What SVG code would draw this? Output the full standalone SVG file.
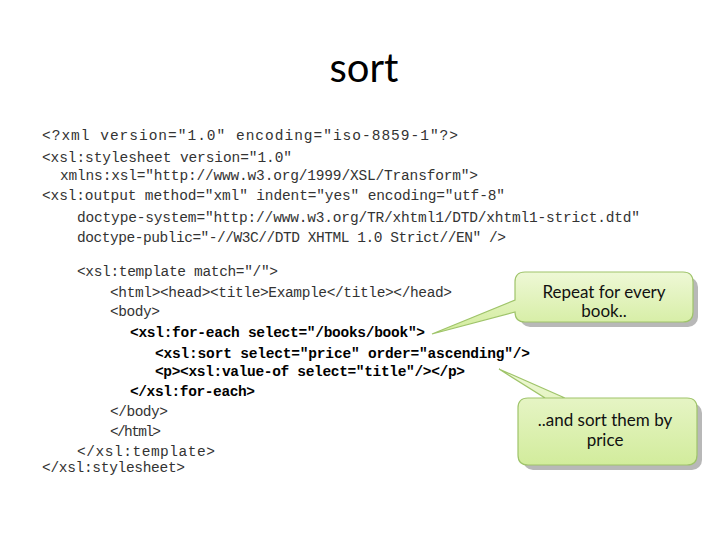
<svg xmlns="http://www.w3.org/2000/svg" width="728" height="546" viewBox="0 0 728 546">
<style>
.c{font-family:"Liberation Mono",monospace;font-size:14.5px;fill:#333}
.b{font-weight:bold;fill:#000}
.call{fill:url(#g);stroke:#9fc46a;stroke-width:1.2}
.sh{fill:#b8b8b8}
.ct{font-family:Lato,"Open Sans",sans-serif;font-size:17px;fill:#111;text-anchor:middle}
</style>
<defs><linearGradient id="g" x1="0" y1="0" x2="0" y2="1"><stop offset="0" stop-color="#eef8d6"/><stop offset="1" stop-color="#d2ec9c"/></linearGradient></defs>
<rect width="728" height="546" fill="#fff"/>
<text x="364" y="82" font-family="Lato,'Open Sans',sans-serif" font-size="40" text-anchor="middle" fill="#000">sort</text>
<g id="code">
<text class="c" x="42" y="140" textLength="416">&lt;?xml version="1.0" encoding="iso-8859-1"?&gt;</text>
<text class="c" x="42" y="162" textLength="250">&lt;xsl:stylesheet version="1.0"</text>
<text class="c" x="60" y="180" textLength="418">xmlns:xsl="http://www.w3.org/1999/XSL/Transform"&gt;</text>
<text class="c" x="42" y="200" textLength="463">&lt;xsl:output method="xml" indent="yes" encoding="utf-8"</text>
<text class="c" x="77" y="222" textLength="563">doctype-system="http://www.w3.org/TR/xhtml1/DTD/xhtml1-strict.dtd"</text>
<text class="c" x="77" y="242" textLength="429">doctype-public="-//W3C//DTD XHTML 1.0 Strict//EN" /&gt;</text>
<text class="c" x="77" y="276" textLength="201">&lt;xsl:template match="/"&gt;</text>
<text class="c" x="110" y="297" textLength="342">&lt;html&gt;&lt;head&gt;&lt;title&gt;Example&lt;/title&gt;&lt;/head&gt;</text>
<text class="c" x="110" y="316" textLength="50">&lt;body&gt;</text>
<text class="c b" x="130" y="337" textLength="295">&lt;xsl:for-each select="/books/book"&gt;</text>
<text class="c b" x="155" y="358" textLength="375">&lt;xsl:sort select="price" order="ascending"/&gt;</text>
<text class="c b" x="155" y="376" textLength="310">&lt;p&gt;&lt;xsl:value-of select="title"/&gt;&lt;/p&gt;</text>
<text class="c b" x="130" y="396" textLength="125">&lt;/xsl:for-each&gt;</text>
<text class="c" x="110" y="416" textLength="58">&lt;/body&gt;</text>
<text class="c" x="110" y="436" textLength="51">&lt;/html&gt;</text>
<text class="c" x="77" y="456" textLength="138">&lt;/xsl:template&gt;</text>
<text class="c" x="42" y="472" textLength="143">&lt;/xsl:stylesheet&gt;</text>
</g>
<g id="callout1">
<rect class="sh" x="520" y="277" width="178" height="50" rx="10"/>
<path class="call" d="M525 272 H683 Q693 272 693 282 V312 Q693 322 683 322 H525 Q515 322 515 312 L432 334 L515 300 V282 Q515 272 525 272 Z"/>
<text class="ct" x="604" y="298">Repeat for every</text>
<text class="ct" x="604" y="317">book..</text>
</g>
<g id="callout2">
<rect class="sh" x="523" y="403" width="179" height="67" rx="10"/>
<path class="call" d="M528 398 H687 Q697 398 697 408 V455 Q697 465 687 465 H528 Q518 465 518 455 V408 Q518 398 528 398 H545 L499 369 L565 398 Z"/>
<text class="ct" x="605" y="426">..and sort them by</text>
<text class="ct" x="605" y="446">price</text>
</g>
</svg>
